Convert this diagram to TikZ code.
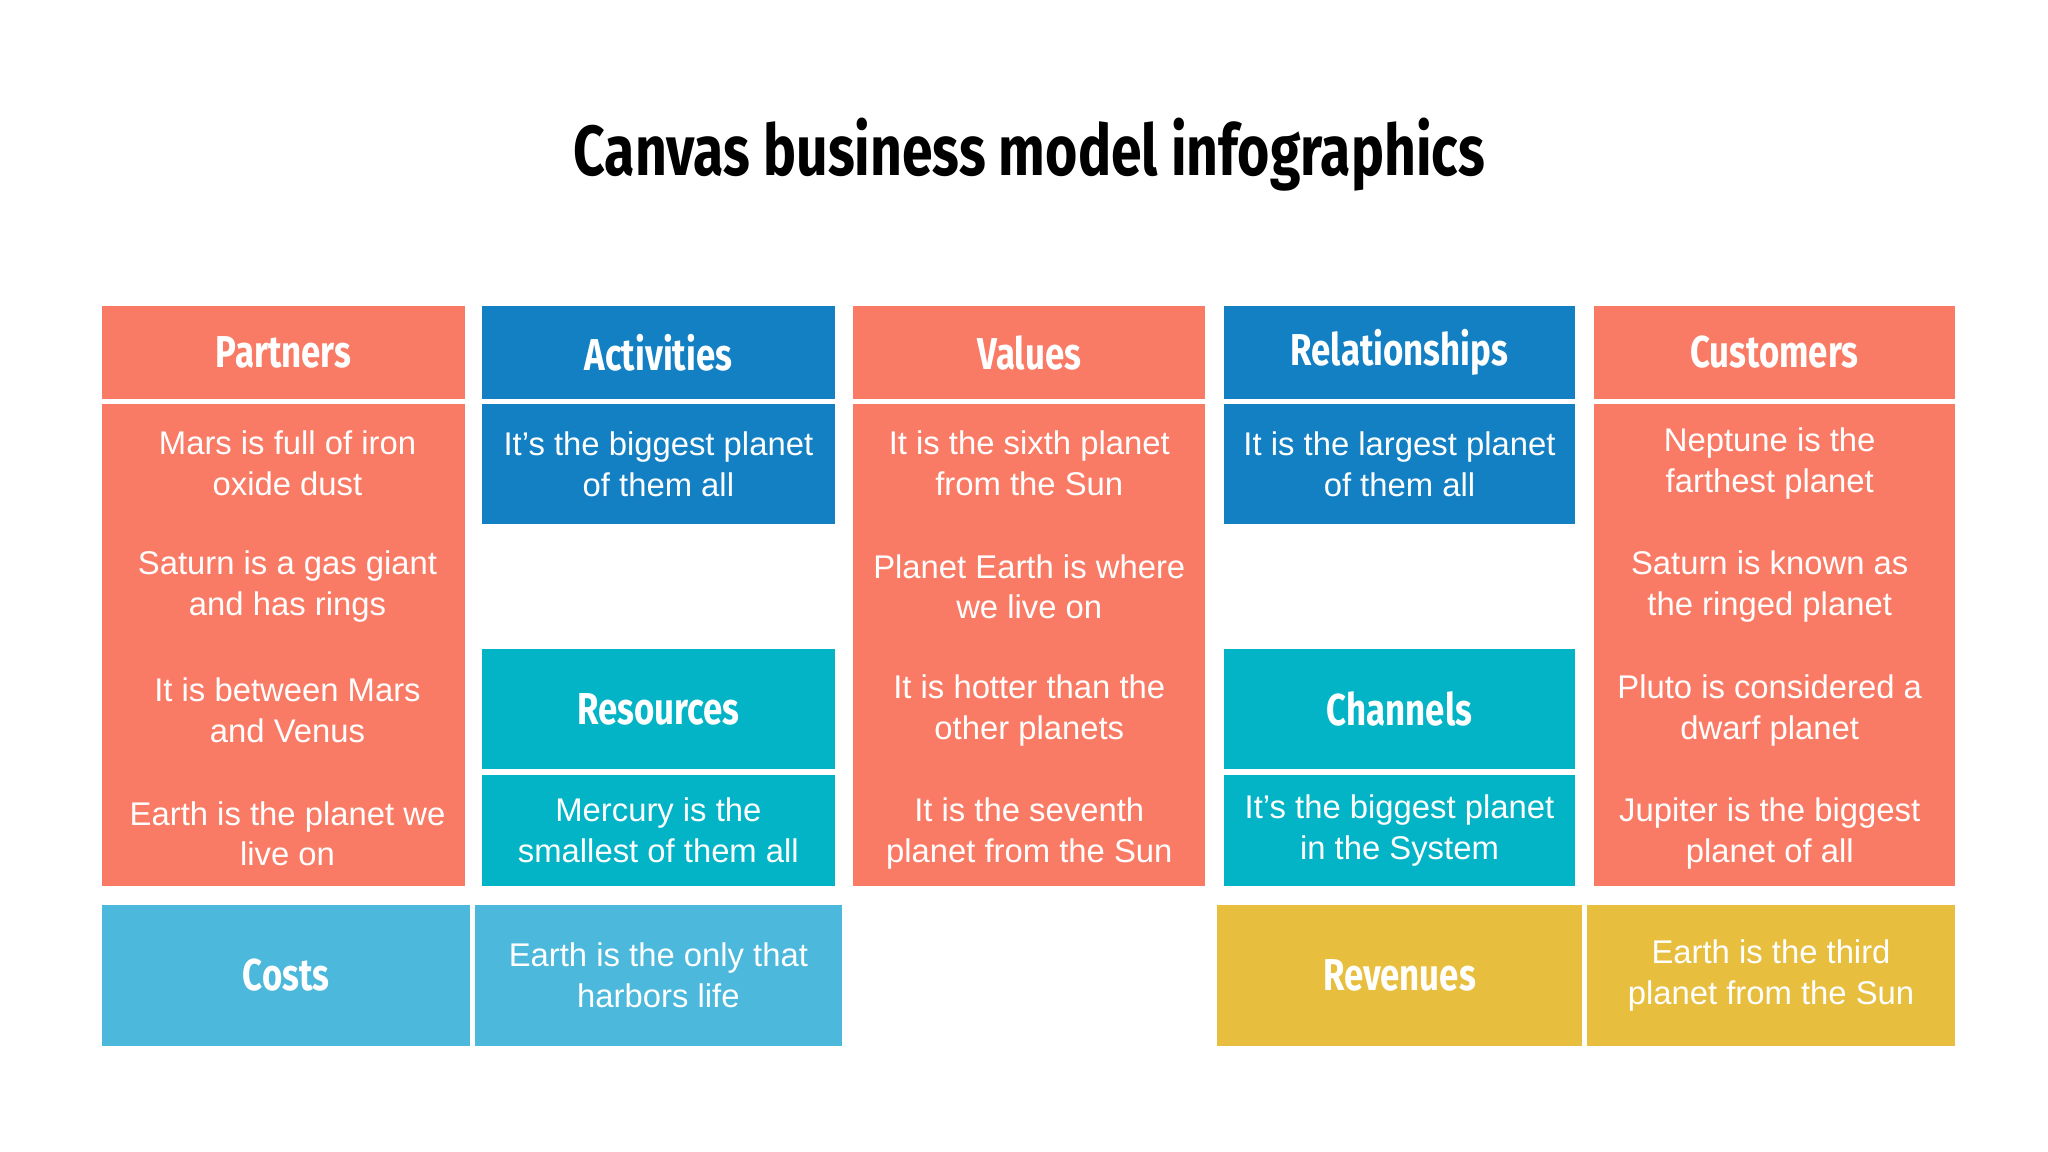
\documentclass[tikz,border=0pt]{standalone}
\usepackage{fontspec}
\setmainfont{Liberation Sans}
\newfontfamily\headf[FakeStretch=0.78]{Fira Sans}
\definecolor{coral}{HTML}{FA7B65}
\definecolor{dblue}{HTML}{1380C3}
\definecolor{teal}{HTML}{02B4C6}
\definecolor{lblue}{HTML}{4BB8DC}
\definecolor{gold}{HTML}{E8BE3E}
\tikzset{
 cell/.style={fill=#1, draw=none, inner sep=0pt, text=white, align=center},
 hd/.style={font=\headf\bfseries\fontsize{34}{40}\selectfont},
 bd/.style={font=\fontsize{25}{31}\selectfont},
 tx/.style={text=white, align=center, font=\fontsize{25}{31}\selectfont}
}
\begin{document}
\begin{tikzpicture}[x=1pt,y=-1pt]
\useasboundingbox[fill=white] (0,0) rectangle (1560,877.5);
\node[font=\headf\bfseries\fontsize{54}{60}\selectfont] (title) at (784,118) {Canvas business model infographics};
% headers
\node[cell=coral,hd,minimum width=276pt,minimum height=71pt] (hp) at (216,268.5) {Partners};
\node[cell=dblue,hd,minimum width=269pt,minimum height=71pt] (ha) at (501.5,268.5) {Activities};
\node[cell=coral,hd,minimum width=268pt,minimum height=71pt] (hv) at (784,268.5) {Values};
\node[cell=dblue,hd,minimum width=268pt,minimum height=71pt] (hr) at (1066,268.5) {Relationships};
\node[cell=coral,hd,minimum width=275pt,minimum height=71pt] (hc) at (1351.5,268.5) {Customers};
% tall bodies
\node[cell=coral,minimum width=276pt,minimum height=367pt] (bp) at (216,491.5) {};
\node[cell=coral,minimum width=268pt,minimum height=367pt] (bv) at (784,491.5) {};
\node[cell=coral,minimum width=275pt,minimum height=367pt] (bc) at (1351.5,491.5) {};
\node[cell=dblue,bd,minimum width=269pt,minimum height=91pt] (ba) at (501.5,353.5) {It’s the biggest planet\\of them all};
\node[cell=dblue,bd,minimum width=268pt,minimum height=91pt] (br) at (1066,353.5) {It is the largest planet\\of them all};
\node[cell=teal,hd,minimum width=269pt,minimum height=92pt] (hres) at (501.5,540) {Resources};
\node[cell=teal,bd,minimum width=269pt,minimum height=85pt] (bres) at (501.5,632.5) {Mercury is the\\smallest of them all};
\node[cell=teal,hd,minimum width=268pt,minimum height=92pt] (hch) at (1066,540) {Channels};
\node[cell=teal,bd,minimum width=268pt,minimum height=85pt] (bch) at (1066,632.5) {It’s the biggest planet\\in the System};
% texts in tall columns
\foreach \n/\x/\a/\b/\c/\d/\e/\f/\g/\h in {
 p/219/Mars is full of iron/oxide dust/Saturn is a gas giant/and has rings/It is between Mars/and Venus/Earth is the planet we/live on,
 v/784/It is the sixth planet/from the Sun/Planet Earth is where/we live on/It is hotter than the/other planets/It is the seventh/planet from the Sun,
 c/1348/Neptune is the/farthest planet/Saturn is known as/the ringed planet/Pluto is considered a/dwarf planet/Jupiter is the biggest/planet of all}{
 \node[tx] (\n1) at (\x,353) {\a\\\b};
 \node[tx] (\n2) at (\x,447) {\c\\\d};
 \node[tx] (\n3) at (\x,541) {\e\\\f};
 \node[tx] (\n4) at (\x,635) {\g\\\h};
}
% bottom
\node[cell=lblue,hd,minimum width=280pt,minimum height=108pt] (costs) at (218,743) {Costs};
\node[cell=lblue,bd,minimum width=279pt,minimum height=108pt] (ct) at (501.5,743) {Earth is the only that\\harbors life};
\node[cell=gold,hd,minimum width=278pt,minimum height=108pt] (rev) at (1066,743) {Revenues};
\node[cell=gold,bd,minimum width=280pt,minimum height=108pt] (rt) at (1349,743) {Earth is the third\\planet from the Sun};
\end{tikzpicture}
\end{document}
